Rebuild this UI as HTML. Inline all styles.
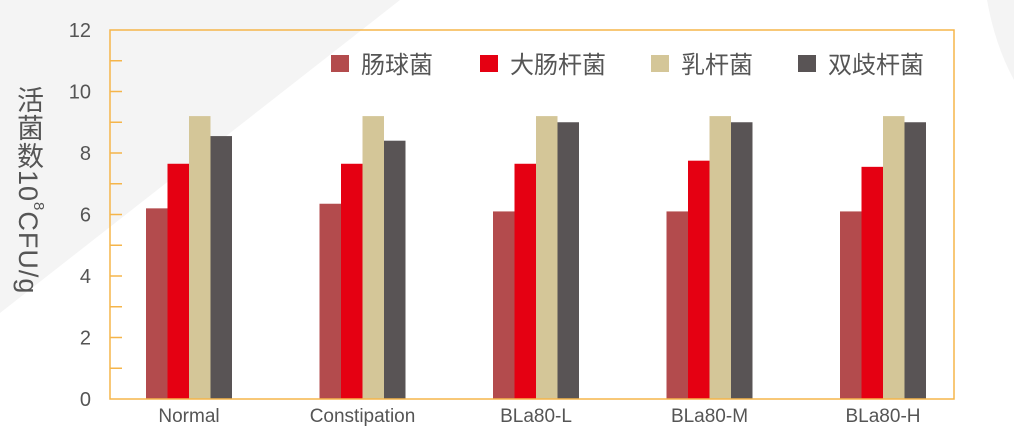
<!DOCTYPE html>
<html><head><meta charset="utf-8"><style>
html,body{margin:0;padding:0;background:#fff;}
body{width:1014px;height:436px;overflow:hidden;position:relative;font-family:"Liberation Sans","Noto Sans CJK SC",sans-serif;}
svg text{font-family:"Liberation Sans","Noto Sans CJK SC",sans-serif;fill:#555;}
#ytitle{position:absolute;left:12px;top:86px;writing-mode:vertical-rl;font-size:27px;color:#555;line-height:32px;letter-spacing:1px;}
#ytitle sup{font-size:15px;}
</style></head><body>
<svg id="chart" width="1014" height="436" viewBox="0 0 1014 436" xmlns="http://www.w3.org/2000/svg" style="position:absolute;left:0;top:0">
<polygon points="0,0 400,0 0,313" fill="#f4f4f4"/>
<path d="M987,0 Q995,45 1014,80 L1014,0 Z" fill="#f4f4f4"/>
<g id="grid"></g>
<g id="bars"></g>
<g id="axes"></g>
<g id="legend"></g>
</svg>
<div id="ytitle">活菌数10<sup>8</sup>CFU/g</div>
<script>
const categories = ["Normal","Constipation","BLa80-L","BLa80-M","BLa80-H"];
const seriesNames = ["肠球菌","大肠杆菌","乳杆菌","双歧杆菌"];
const s1 = [6.2,6.35,6.1,6.1,6.1];
const s2 = [7.65,7.65,7.65,7.75,7.55];
const s3 = [9.2,9.2,9.2,9.2,9.2];
const s4 = [8.55,8.4,9.0,9.0,9.0];
const yTicks = [0,2,4,6,8,10,12];
const colors = ["#b34b4d","#e50012","#d4c698","#595455"];
const NS="http://www.w3.org/2000/svg";
const X0=110,X1=954,Y0=399,Y1=30,YMAX=12;
const y=v=>Y0-(v/YMAX)*(Y0-Y1);
const xc=i=>189+i*173.5;
const BW=21.5;
function mk(t,a,p){const e=document.createElementNS(NS,t);for(const k in a)e.setAttribute(k,a[k]);p.appendChild(e);return e;}
const axes=document.getElementById('axes'),bars=document.getElementById('bars'),leg=document.getElementById('legend');
const series=[s1,s2,s3,s4];
series.forEach((s,si)=>{s.forEach((v,i)=>{
 const r=mk('rect',{x:xc(i)-2*BW+si*BW,y:y(v),width:BW,height:Y0-y(v),fill:colors[si]},bars);
 
 
});});
const frame=mk('rect',{x:X0,y:Y1,width:X1-X0,height:Y0-Y1,fill:'none',stroke:'#f5b54a','stroke-width':1.5},axes);


for(let v=1;v<YMAX;v++){const l=mk('line',{x1:X0,x2:X0+12,y1:y(v),y2:y(v),stroke:'#f5b54a','stroke-width':1.5},axes);
 
 }
yTicks.forEach(v=>{const t=mk('text',{x:91,y:y(v)+7,'text-anchor':'end','font-size':20},axes);t.textContent=v;
 
 });
categories.forEach((c,i)=>{const t=mk('text',{x:xc(i),y:422,'text-anchor':'middle','font-size':19},axes);t.textContent=c;
 
 });
const lx=[331,480,651,798];
seriesNames.forEach((n,i)=>{
 const g=mk('g',{},leg);
 
 
 mk('rect',{x:lx[i],y:55,width:18,height:17,fill:colors[i]},g);
 const t=mk('text',{x:lx[i]+30,y:73,'font-size':24},g);t.textContent=n;
});
</script>
</body></html>
